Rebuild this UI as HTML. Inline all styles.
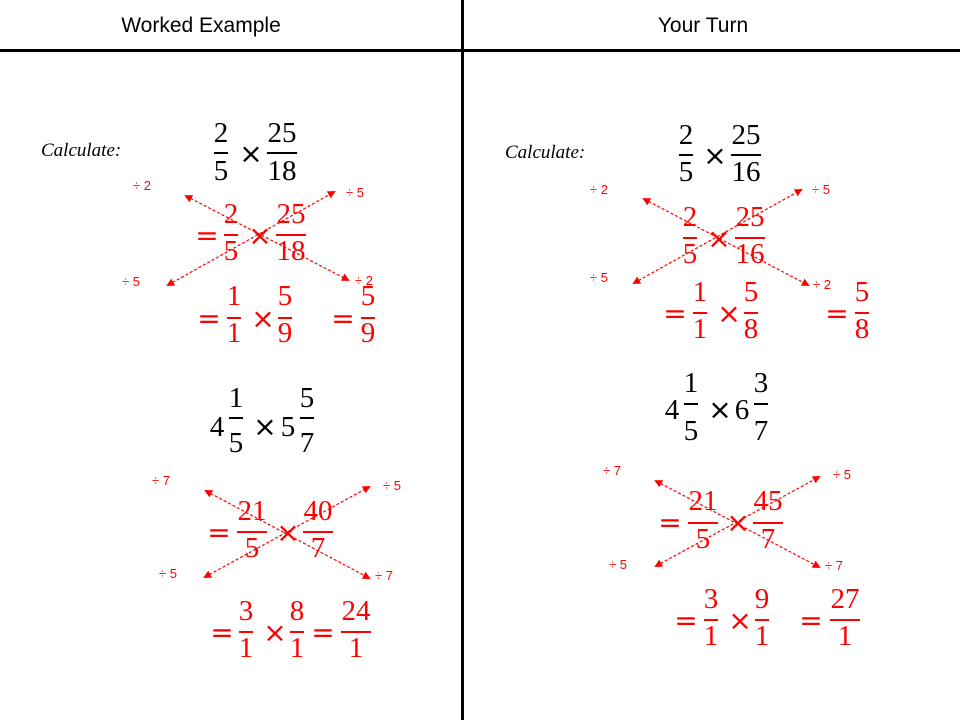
<!DOCTYPE html>
<html><head><meta charset="utf-8"><style>
html,body{margin:0;padding:0;background:#fff;}
svg{display:block;}
.h{font-family:"Liberation Sans",sans-serif;font-size:21px;fill:#000;}
.m{font-family:"Liberation Serif",serif;font-size:29px;text-anchor:middle;}
.o{font-family:"DejaVu Sans",sans-serif;font-size:28px;text-anchor:middle;}
.k{fill:#000;}
.r{fill:#f00;}
.s{font-family:"Liberation Sans",sans-serif;font-size:13px;fill:#f00;}
.c{font-family:"Liberation Serif",serif;font-style:italic;font-size:19px;fill:#000;}
.ar{stroke:#f00;stroke-width:1.2;stroke-dasharray:3,2;fill:none;}
</style></head><body>
<svg width="960" height="720" viewBox="0 0 960 720">
<defs>
<marker id="a" markerWidth="8" markerHeight="8" refX="6" refY="4" orient="auto-start-reverse" markerUnits="userSpaceOnUse">
<path d="M0,0 L8,4 L0,8 z" fill="#f00"/></marker>
</defs>
<rect x="0" y="49" width="960" height="3" fill="#000"/>
<rect x="461" y="0" width="3" height="720" fill="#000"/>
<text class="h" x="201" y="32" text-anchor="middle">Worked Example</text>
<text class="h" x="703" y="32" text-anchor="middle">Your Turn</text>

<!-- LEFT 1 -->
<text class="c" x="41" y="156">Calculate:</text>
<g class="m k">
<text x="221" y="142">2</text><rect x="214" y="152" width="14" height="2"/><text x="221" y="180">5</text>
<text x="282" y="142">25</text><rect x="267" y="152" width="30" height="2"/><text x="282" y="180">18</text>
</g>
<text class="o k" x="251" y="163">×</text>
<g class="m r">
<text x="231" y="223">2</text><rect x="224" y="234" width="14" height="2"/><text x="231" y="260">5</text>
<text x="291" y="223">25</text><rect x="276" y="234" width="30" height="2"/><text x="291" y="260">18</text>
<text x="234" y="305">1</text><rect x="227" y="317" width="14" height="2"/><text x="234" y="342">1</text>
<text x="285" y="305">5</text><rect x="278" y="317" width="14" height="2"/><text x="285" y="342">9</text>
<text x="368" y="305">5</text><rect x="361" y="317" width="14" height="2"/><text x="368" y="342">9</text>
</g>
<g class="o r">
<text x="207" y="245">=</text><text x="260" y="245">×</text>
<text x="209" y="328">=</text><text x="263" y="328">×</text><text x="343" y="328">=</text>
</g>
<line class="ar" x1="186" y1="196" x2="348" y2="280" marker-start="url(#a)" marker-end="url(#a)"/>
<line class="ar" x1="168" y1="285" x2="334" y2="192" marker-start="url(#a)" marker-end="url(#a)"/>
<text class="s" x="133" y="190">÷ 2</text>
<text class="s" x="346" y="197">÷ 5</text>
<text class="s" x="122" y="286">÷ 5</text>
<text class="s" x="355" y="285">÷ 2</text>

<!-- LEFT 2 -->
<g class="m k">
<text x="217" y="436">4</text>
<text x="236" y="407">1</text><rect x="229" y="417" width="14" height="2"/><text x="236" y="452">5</text>
<text x="288" y="436">5</text>
<text x="307" y="407">5</text><rect x="300" y="417" width="14" height="2"/><text x="307" y="452">7</text>
</g>
<text class="o k" x="265" y="436">×</text>
<g class="m r">
<text x="252" y="520">21</text><rect x="237" y="531" width="30" height="2"/><text x="252" y="557">5</text>
<text x="318" y="520">40</text><rect x="303" y="531" width="30" height="2"/><text x="318" y="557">7</text>
<text x="246" y="620">3</text><rect x="239" y="631" width="14" height="2"/><text x="246" y="657">1</text>
<text x="297" y="620">8</text><rect x="290" y="631" width="14" height="2"/><text x="297" y="657">1</text>
<text x="356" y="620">24</text><rect x="341" y="631" width="30" height="2"/><text x="356" y="657">1</text>
</g>
<g class="o r">
<text x="219" y="542">=</text><text x="288" y="542">×</text>
<text x="222" y="642">=</text><text x="275" y="642">×</text><text x="323" y="642">=</text>
</g>
<line class="ar" x1="206" y1="491" x2="369" y2="578" marker-start="url(#a)" marker-end="url(#a)"/>
<line class="ar" x1="205" y1="577" x2="369" y2="487" marker-start="url(#a)" marker-end="url(#a)"/>
<text class="s" x="152" y="485">÷ 7</text>
<text class="s" x="383" y="490">÷ 5</text>
<text class="s" x="159" y="578">÷ 5</text>
<text class="s" x="375" y="580">÷ 7</text>

<!-- RIGHT 1 -->
<text class="c" x="505" y="158">Calculate:</text>
<g class="m k">
<text x="686" y="144">2</text><rect x="679" y="154" width="14" height="2"/><text x="686" y="181">5</text>
<text x="746" y="144">25</text><rect x="731" y="154" width="30" height="2"/><text x="746" y="181">16</text>
</g>
<text class="o k" x="715" y="165">×</text>
<g class="m r">
<text x="690" y="226">2</text><rect x="683" y="237" width="14" height="2"/><text x="690" y="263">5</text>
<text x="750" y="226">25</text><rect x="735" y="237" width="30" height="2"/><text x="750" y="263">16</text>
<text x="700" y="301">1</text><rect x="693" y="312" width="14" height="2"/><text x="700" y="338">1</text>
<text x="751" y="301">5</text><rect x="744" y="312" width="14" height="2"/><text x="751" y="338">8</text>
<text x="862" y="301">5</text><rect x="855" y="312" width="14" height="2"/><text x="862" y="338">8</text>
</g>
<g class="o r">
<text x="719" y="248">×</text>
<text x="675" y="323">=</text><text x="729" y="323">×</text><text x="837" y="323">=</text>
</g>
<line class="ar" x1="644" y1="199" x2="808" y2="285" marker-start="url(#a)" marker-end="url(#a)"/>
<line class="ar" x1="634" y1="283" x2="801" y2="190" marker-start="url(#a)" marker-end="url(#a)"/>
<text class="s" x="590" y="194">÷ 2</text>
<text class="s" x="812" y="194">÷ 5</text>
<text class="s" x="590" y="282">÷ 5</text>
<text class="s" x="813" y="289">÷ 2</text>

<!-- RIGHT 2 -->
<g class="m k">
<text x="672" y="419">4</text>
<text x="691" y="392">1</text><rect x="684" y="403" width="14" height="2"/><text x="691" y="440">5</text>
<text x="742" y="419">6</text>
<text x="761" y="392">3</text><rect x="754" y="403" width="14" height="2"/><text x="761" y="440">7</text>
</g>
<text class="o k" x="720" y="419">×</text>
<g class="m r">
<text x="703" y="510">21</text><rect x="688" y="522" width="30" height="2"/><text x="703" y="548">5</text>
<text x="768" y="510">45</text><rect x="753" y="522" width="30" height="2"/><text x="768" y="548">7</text>
<text x="711" y="608">3</text><rect x="704" y="619" width="14" height="2"/><text x="711" y="645">1</text>
<text x="762" y="608">9</text><rect x="755" y="619" width="14" height="2"/><text x="762" y="645">1</text>
<text x="845" y="608">27</text><rect x="830" y="619" width="30" height="2"/><text x="845" y="645">1</text>
</g>
<g class="o r">
<text x="670" y="532">=</text><text x="738" y="532">×</text>
<text x="686" y="630">=</text><text x="740" y="630">×</text><text x="811" y="630">=</text>
</g>
<line class="ar" x1="656" y1="481" x2="819" y2="567" marker-start="url(#a)" marker-end="url(#a)"/>
<line class="ar" x1="656" y1="566" x2="819" y2="477" marker-start="url(#a)" marker-end="url(#a)"/>
<text class="s" x="603" y="475">÷ 7</text>
<text class="s" x="833" y="479">÷ 5</text>
<text class="s" x="609" y="569">÷ 5</text>
<text class="s" x="825" y="570">÷ 7</text>
</svg>
</body></html>
